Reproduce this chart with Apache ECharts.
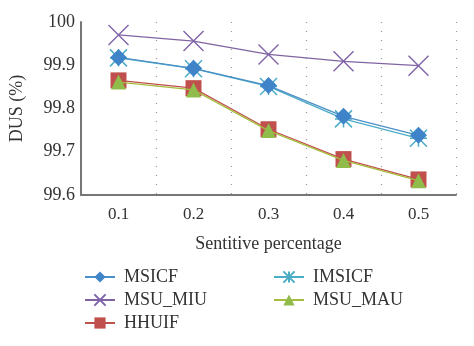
<!DOCTYPE html>
<html><head><meta charset="utf-8">
<script src="https://cdn.jsdelivr.net/npm/echarts@6/dist/echarts.min.js"></script>
<style>html,body{margin:0;padding:0;background:#fff}#c{width:474px;height:346px}</style>
</head><body><div id="c"></div>
<script>
const categories = ['0.1','0.2','0.3','0.4','0.5'];
const yTicks = [99.6, 99.7, 99.8, 99.9, 100];
const MSICF = [99.918, 99.893, 99.853, 99.782, 99.738];
const MSU_MIU = [99.970, 99.956, 99.925, 99.909, 99.899];
const HHUIF = [99.865, 99.847, 99.752, 99.683, 99.636];
const IMSICF = [99.917, 99.892, 99.851, 99.776, 99.731];
const MSU_MAU = [99.861, 99.843, 99.749, 99.680, 99.633];

const font = 'Liberation Serif';
const chart = echarts.init(document.getElementById('c'));
const cross = 'path://M0 0L10 10M10 0L0 10';
const aster = 'path://M0 0L10 10M10 0L0 10M5 0L5 10M0 5L10 5';
function s(name, data, color, lineColor, symbol, size, extra){
  return Object.assign({
    name, type:'line', data, symbol, symbolSize:size, showSymbol:true,
    lineStyle:{color:lineColor, width:1.3},
    itemStyle:{color:color},
    emphasis:{disabled:true}, animation:false
  }, extra||{});
}
const legendText = {fontFamily:font, fontSize:18, color:'#333', lineHeight:16, padding:[0,0,0,4]};
chart.setOption({
  animation:false,
  grid:{left:81, right:18, top:22, bottom:151},
  xAxis:{type:'category', data:categories, boundaryGap:true,
    name:'Sentitive percentage', nameLocation:'middle', nameGap:40,
    nameTextStyle:{fontFamily:font, fontSize:18, color:'#333'},
    axisLine:{lineStyle:{color:'#777', width:2}}, axisTick:{show:false},
    axisLabel:{fontFamily:font, fontSize:17, color:'#333', margin:11},
    splitLine:{show:true, lineStyle:{color:'#999', type:[1,8], width:1.2}}},
  yAxis:{type:'value', min:yTicks[0], max:yTicks[yTicks.length-1], interval:0.1,
    name:'DUS (%)', nameLocation:'middle', nameGap:55,
    nameTextStyle:{fontFamily:font, fontSize:18, color:'#333'},
    axisLine:{show:true, lineStyle:{color:'#777', width:2}}, axisTick:{show:false},
    axisLabel:{fontFamily:font, fontSize:18, color:'#333', margin:6,
      formatter:v=>yTicks.find(t=>Math.abs(t-v)<1e-6)!==undefined ? String(+v.toFixed(1)) : ''},
    splitLine:{show:false}},
  legend:[
    {data:['MSICF','MSU_MIU','HHUIF'], orient:'vertical', left:79, top:263,
     itemWidth:30, itemHeight:14, itemGap:5, textStyle:legendText},
    {data:['IMSICF','MSU_MAU'], orient:'vertical', left:268, top:263,
     itemWidth:30, itemHeight:14, itemGap:5, textStyle:legendText}
  ],
  series:[
    s('IMSICF', IMSICF, '#4bacc6', '#4bacc6', aster, 17, {itemStyle:{color:'#4bacc6', borderColor:'#4bacc6', borderWidth:1.5}, z:2}),
    s('MSICF', MSICF, '#3f84c8', '#4a8fc8', 'diamond', 17, {z:3}),
    s('MSU_MIU', MSU_MIU, '#7e62a8', '#8064a2', cross, 20, {itemStyle:{color:'#7e62a8', borderColor:'#7e62a8', borderWidth:1.4}, z:2}),
    s('HHUIF', HHUIF, '#c0504d', '#c0504d', 'rect', 16, {z:2}),
    s('MSU_MAU', MSU_MAU, '#8fbc4a', '#a4bd3c', 'triangle', 15, {z:3})
  ]
});
</script></body></html>
